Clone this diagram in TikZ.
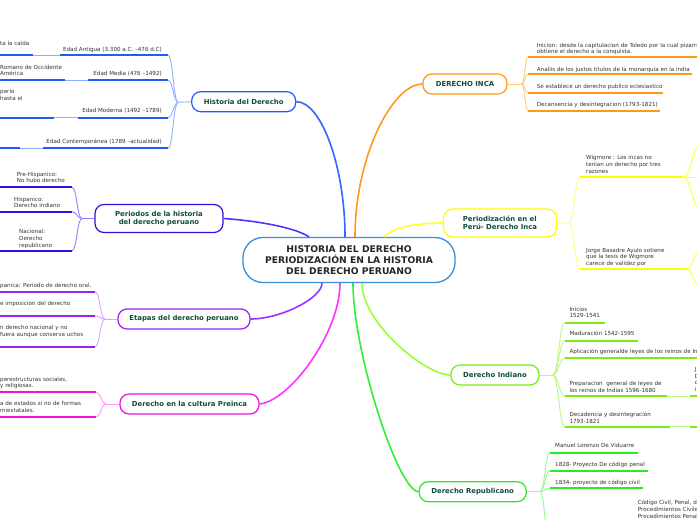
\documentclass[tikz,border=0pt]{standalone}
\usepackage{fontspec}
\setmainfont{DejaVu Sans}
\newcommand{\leaffont}{\fontsize{5.6}{6.6}\selectfont}
\newcommand{\brfont}{\bfseries\fontsize{6.9}{8.2}\selectfont}
\newcommand{\cenfont}{\bfseries\fontsize{9.2}{11.3}\selectfont}
\newcommand{\mlL}[1]{\begin{tabular}[b]{@{}l@{}}#1\end{tabular}}
\definecolor{hb}{HTML}{1F5BFF}
\definecolor{hbl}{HTML}{8FB0FF}
\definecolor{mhb}{HTML}{3366FF}
\definecolor{pv}{HTML}{3311DD}
\definecolor{pvl}{HTML}{9080FF}
\definecolor{mpv}{HTML}{5533FF}
\definecolor{ep}{HTML}{9922EE}
\definecolor{epl}{HTML}{D9A0FF}
\definecolor{mep}{HTML}{9933FF}
\definecolor{mg}{HTML}{EE11DD}
\definecolor{mgl}{HTML}{FF99F2}
\definecolor{mmg}{HTML}{FF33FF}
\definecolor{org}{HTML}{FF9911}
\definecolor{orgl}{HTML}{FFCC77}
\definecolor{morg}{HTML}{FF9922}
\definecolor{yel}{HTML}{FFFF00}
\definecolor{yell}{HTML}{FFFF77}
\definecolor{myel}{HTML}{FFFF33}
\definecolor{gi}{HTML}{77EE11}
\definecolor{gil}{HTML}{BBF78A}
\definecolor{mgi}{HTML}{99FF33}
\definecolor{gr}{HTML}{22EE22}
\definecolor{grl}{HTML}{99F799}
\definecolor{mgr}{HTML}{33EE33}
\definecolor{cen}{HTML}{3A8FD9}
\definecolor{brtext}{HTML}{0E4D3C}
\definecolor{leafc}{HTML}{333333}
\tikzset{
 br/.style={draw=#1, line width=1.2pt, rounded corners=9pt, fill=white, font=\brfont, text=brtext, inner sep=0pt, align=center},
 lf/.style={inner sep=0pt, font=\leaffont, text=leafc, anchor=base west},
 lfr/.style={lf, anchor=base east},
 ul/.style={draw=#1, line width=1.7pt},
 cn/.style={draw=#1, line width=0.9pt},
 mc/.style={draw=#1, line width=1.6pt},
}
\begin{document}
\begin{tikzpicture}[x=1pt,y=-1pt]
\path[use as bounding box] (0,0) rectangle (697,520);
\clip (0,0) rectangle (697,520);
\fill[white] (0,0) rectangle (697,520);

% central
\node[draw=cen, line width=1.3pt, rounded corners=20pt, fill=white, minimum width=212, minimum height=45, font=\cenfont, align=center, inner sep=0pt, text=black!85] (ctr) at (349,260) {HISTORIA DEL DERECHO\\PERIODIZACIÓN EN LA HISTORIA\\DEL DERECHO PERUANO};

% branches
\node[br=hb, minimum width=104, minimum height=20] (hd) at (243.7,101.7) {Historia del Derecho};
\node[br=pv, minimum width=128, minimum height=28] (pd) at (159,218.5) {Periodos de la historia\\del derecho peruano};
\node[br=ep, minimum width=132, minimum height=20] (ed) at (184,319) {Etapas del derecho peruano};
\node[br=mg, minimum width=139, minimum height=20] (pi) at (189.5,404) {Derecho en la cultura Preinca};
\node[br=org, minimum width=84, minimum height=20] (di) at (465,84) {DERECHO INCA};
\node[br=yel, minimum width=113, minimum height=28, align=left] (pz) at (500,223) {Periodización en el\\Perú- Derecho Inca};
\node[br=gi, minimum width=88, minimum height=20] (ii) at (495,375) {Derecho Indiano};
\node[br=gr, minimum width=107, minimum height=20] (dr) at (472.7,491.7) {Derecho Republicano};

% main connectors
\draw[mc=mhb] (hd.east) .. controls +(25,0) and +(0,-70) .. ([xshift=-4pt]ctr.north);
\draw[mc=morg] (di.west) .. controls +(-30,0) and +(0,-80) .. ([xshift=6pt]ctr.north);
\draw[mc=mpv] (pd.east) .. controls +(30,2) and +(-15,-10) .. ([xshift=-40pt]ctr.north);
\draw[mc=myel] (pz.west) .. controls +(-25,0) and +(10,-10) .. ([xshift=35pt]ctr.north);
\draw[mc=mep] (ed.east) .. controls +(30,0) and +(0,15) .. ([xshift=-27pt]ctr.south);
\draw[mc=mmg] (pi.east) .. controls +(30,-3) and +(0,50) .. ([xshift=-9pt]ctr.south);
\draw[mc=mgr] (dr.west) .. controls +(-20,0) and +(0,70) .. ([xshift=4pt]ctr.south);
\draw[mc=mgi] (ii.west) .. controls +(-25,0) and +(0,40) .. ([xshift=13pt]ctr.south);

% ---- Historia del Derecho
\coordinate (hdF) at (178.3,102.3);
\draw[cn=hbl] (hd.west) -- (hdF);
\coordinate (h1R) at (168,55.3); \coordinate (h1L) at (60,55.3);
\coordinate (h2R) at (168,80.3); \coordinate (h2L) at (88,80.3);
\coordinate (h3R) at (168,117.7); \coordinate (h3L) at (78,117.7);
\coordinate (h4R) at (168,148.3); \coordinate (h4L) at (43,148.3);
\foreach \k in {h1R,h2R,h3R,h4R}{\draw[cn=hbl] (hdF) .. controls +(-5,0) and +(5,0) .. (\k);}
\draw[ul=hb] (h1L) -- (h1R); \draw[ul=hb] (h2L) -- (h2R);
\draw[ul=hb] (h3L) -- (h3R); \draw[ul=hb] (h4L) -- (h4R);
\node[lfr] (h1) at (162,51.3) {Edad Antigua (3.300 a.C. –476 d.C)};
\node[lfr] (h2) at (162,75.7) {Edad Media (476 –1492)};
\node[lfr] (h3) at (162,112.7) {Edad Moderna (1492 –1789)};
\node[lfr] (h4) at (162,143.7) {Edad Contemporánea (1789 –actualidad)};
\coordinate (h1sR) at (33,55.3); \coordinate (h1sL) at (-3,55.3);
\coordinate (h2sR) at (65,80.3); \coordinate (h2sL) at (-3,80.3);
\coordinate (h3sR) at (54,117.7); \coordinate (h3sL) at (-3,117.7);
\coordinate (h4sR) at (20,148.3); \coordinate (h4sL) at (-3,148.3);
\draw[cn=hbl] (h1L) -- (h1sR); \draw[ul=hb] (h1sL) -- (h1sR);
\draw[cn=hbl] (h2L) -- (h2sR); \draw[ul=hb] (h2sL) -- (h2sR);
\draw[cn=hbl] (h3L) -- (h3sR); \draw[ul=hb] (h3sL) -- (h3sR);
\draw[cn=hbl] (h4L) -- (h4sR); \draw[ul=hb] (h4sL) -- (h4sR);
\node[lf] (h1s) at (0,45) {ta la caída};
\node[lf] (h2s) at (0,75.7) {\mlL{Romano de Occidente\\América}};
\node[lf] (h3s) at (0,100) {\mlL{perio\\hasta el}};

% ---- Periodos
\coordinate (pdF) at (82,218.5);
\draw[cn=pvl] (pd.west) -- (pdF);
\coordinate (p1R) at (72,187.3); \coordinate (p1L) at (-3,187.3);
\coordinate (p2R) at (72,211.7); \coordinate (p2L) at (-3,211.7);
\coordinate (p3R) at (72,250.7); \coordinate (p3L) at (-3,250.7);
\foreach \k in {p1R,p2R,p3R}{\draw[cn=pvl] (pdF) .. controls +(-5,0) and +(5,0) .. (\k);}
\draw[ul=pv] (p1L) -- (p1R); \draw[ul=pv] (p2L) -- (p2R); \draw[ul=pv] (p3L) -- (p3R);
\node[lf] (p1) at (16.7,182.7) {\mlL{Pre-Hispanico:\\No hubo derecho}};
\node[lf] (p2) at (14,207.7) {\mlL{Hispanico:\\Derecho indiano}};
\node[lf] (p3) at (19,247) {\mlL{Nacional:\\Derecho\\republicano}};

% ---- Etapas
\coordinate (edF) at (105,319);
\draw[cn=epl] (ed.west) -- (edF);
\coordinate (e1R) at (95,291.7); \coordinate (e1L) at (-3,291.7);
\coordinate (e2R) at (95,315.7); \coordinate (e2L) at (-3,315.7);
\coordinate (e3R) at (95,346.7); \coordinate (e3L) at (-3,346.7);
\foreach \k in {e1R,e2R,e3R}{\draw[cn=epl] (edF) .. controls +(-5,0) and +(5,0) .. (\k);}
\draw[ul=ep] (e1L) -- (e1R); \draw[ul=ep] (e2L) -- (e2R); \draw[ul=ep] (e3L) -- (e3R);
\node[lf] (e1) at (0,287) {panica: Periodo de derecho oral.};
\node[lf] (e2) at (0,305.3) {e imposicion del derecho};
\node[lf] (e3) at (0,336) {\mlL{n derecho nacional y no\\fuera aunque conserva uchos}};

% ---- Preinca
\coordinate (piF) at (106,404);
\draw[cn=mgl] (pi.west) -- (piF);
\coordinate (r1R) at (96,392.3); \coordinate (r1L) at (-3,392.3);
\coordinate (r2R) at (96,416.7); \coordinate (r2L) at (-3,416.7);
\foreach \k in {r1R,r2R}{\draw[cn=mgl] (piF) .. controls +(-5,0) and +(5,0) .. (\k);}
\draw[ul=mg] (r1L) -- (r1R); \draw[ul=mg] (r2L) -- (r2R);
\node[lf] (r1) at (0,387.7) {\mlL{perestructuras sociales,\\y religiosas.}};
\node[lf] (r2) at (0,412.3) {\mlL{a de estados si no de formas\\miestatales.}};

% ---- Derecho Inca
\coordinate (diF) at (521.7,84);
\draw[cn=orgl] (di.east) -- (diF);
\coordinate (i1L) at (528,56.7); \coordinate (i1R) at (705,56.7);
\coordinate (i2L) at (528,74.3); \coordinate (i2R) at (691.7,74.3);
\coordinate (i3L) at (528,92.7); \coordinate (i3R) at (663,92.7);
\coordinate (i4L) at (528,111); \coordinate (i4R) at (660,111);
\foreach \k in {i1L,i2L,i3L,i4L}{\draw[cn=orgl] (diF) .. controls +(3,0) and +(-3,0) .. (\k);}
\draw[ul=org] (i1L) -- (i1R); \draw[ul=org] (i2L) -- (i2R);
\draw[ul=org] (i3L) -- (i3R); \draw[ul=org] (i4L) -- (i4R);
\node[lf] (i1) at (536.7,53.7) {\mlL{Inicion: desde la capitulacion de Toledo por la cual pizarro\\obtiene el derecho a la conquista.}};
\node[lf] (i2) at (536.7,71) {Analiis de los justos titulos de la monarquia en la india};
\node[lf] (i3) at (536.7,88.7) {Se establece un derecho publico eclesiastico};
\node[lf] (i4) at (536.7,106.7) {Decansencia y desintegracion (1793-1821)};

% ---- Periodizacion
\coordinate (pzF) at (569,223.3);
\draw[cn=yell] (pz.east) -- (pzF);
\coordinate (z1L) at (580,177.3); \coordinate (z1R) at (683.3,177.3);
\coordinate (z2L) at (580,269.3); \coordinate (z2R) at (686.7,269.3);
\foreach \k in {z1L,z2L}{\draw[cn=yell] (pzF) .. controls +(5,0) and +(-5,0) .. (\k);}
\draw[ul=yel] (z1L) -- (z1R); \draw[ul=yel] (z2L) -- (z2R);
\node[lf] (z1) at (586,173) {\mlL{Wigmore : Los incas no\\tenian un derecho por tres\\razones}};
\node[lf] (z2) at (586,265.3) {\mlL{Jorge Basadre Ayulo sotiene\\que la tesis de Wigmore\\carece de validez por}};
\coordinate (z1u) at (700,146); \coordinate (z1m) at (700,177.3); \coordinate (z1d) at (700,208.3);
\coordinate (z2u) at (700,251.7); \coordinate (z2d) at (700,286.7);
\foreach \k in {z1u,z1m,z1d}{\draw[cn=myel] (z1R) .. controls +(8,0) and +(-8,0) .. (\k);}
\foreach \k in {z2u,z2d}{\draw[cn=myel] (z2R) .. controls +(6,0) and +(-6,0) .. (\k);}

% ---- Derecho Indiano
\coordinate (iiF) at (552.7,375);
\draw[cn=gil] (ii.east) -- (iiF);
\coordinate (n1L) at (565,322.7); \coordinate (n1R) at (605,322.7);
\coordinate (n2L) at (565,340.7); \coordinate (n2R) at (638.3,340.7);
\coordinate (n3L) at (565,358.3); \coordinate (n3R) at (705,358.3);
\coordinate (n4L) at (565,396); \coordinate (n4R) at (667,396);
\coordinate (n5L) at (565,426.7); \coordinate (n5R) at (670,426.7);
\foreach \k in {n1L,n2L,n3L,n4L,n5L}{\draw[cn=gil] (iiF) .. controls +(6,0) and +(-6,0) .. (\k);}
\draw[ul=gi] (n1L) -- (n1R); \draw[ul=gi] (n2L) -- (n2R); \draw[ul=gi] (n3L) -- (n3R);
\draw[ul=gi] (n4L) -- (n4R); \draw[ul=gi] (n5L) -- (n5R);
\node[lf] (n1) at (569.3,317.7) {\mlL{Inicios\\1529-1541}};
\node[lf] (n2) at (569.3,335.3) {Maduración 1542-1595};
\node[lf] (n3) at (569.3,353.7) {Aplicación generalde leyes de los reinos de Ind};
\node[lf] (n4) at (569.3,392) {\mlL{Preparacion\ \ general de leyes de\\los reinos de Indias 1596-1680}};
\node[lf] (n5) at (569.3,423) {\mlL{Decadencia y desintegración\\1793-1821}};
\coordinate (n4cL) at (690,396); \coordinate (n4cR) at (705,396);
\coordinate (n5cL) at (690,426.7); \coordinate (n5cR) at (705,426.7);
\draw[cn=gil] (n4R) -- (n4cL); \draw[ul=gi] (n4cL) -- (n4cR);
\draw[cn=gil] (n5R) -- (n5cL); \draw[ul=gi] (n5cL) -- (n5cR);
\node[lf] (n4c) at (694.5,391.3) {\mlL{J\\D\\c\\i}};

% ---- Derecho Republicano
\coordinate (drF) at (540,491.7);
\draw[cn=grl] (dr.east) -- (drF);
\coordinate (d1L) at (550,452.7); \coordinate (d1R) at (637.7,452.7);
\coordinate (d2L) at (550,470.7); \coordinate (d2R) at (648.3,470.7);
\coordinate (d3L) at (550,488.3); \coordinate (d3R) at (643.3,488.3);
\coordinate (d4L) at (550,545);
\foreach \k in {d1L,d2L,d3L,d4L}{\draw[cn=grl] (drF) .. controls +(5,0) and +(-5,0) .. (\k);}
\draw[ul=gr] (d1L) -- (d1R); \draw[ul=gr] (d2L) -- (d2R); \draw[ul=gr] (d3L) -- (d3R);
\node[lf] (d1) at (555,447.7) {Manuel Lorenzo De Viduarre};
\node[lf] (d2) at (555,466) {1828- Proyecto De código penal};
\node[lf] (d3) at (555,484) {1834- proyecto de código civil};
\node[lf] (d5) at (637.7,518) {\mlL{Código Civil, Penal, de\\Procedimientos Civile\\Procedimientos Penal}};
\end{tikzpicture}
\end{document}
